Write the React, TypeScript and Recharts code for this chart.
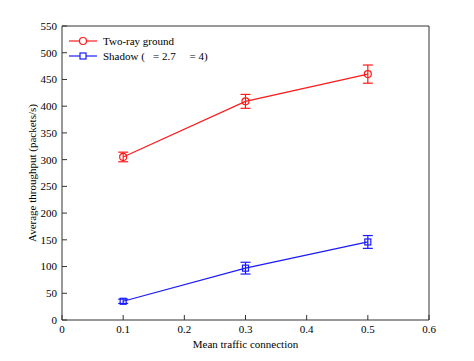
import React from 'react'
import { ComposedChart, Line, XAxis, YAxis, ErrorBar, Legend, Label } from 'recharts'

// values
const connections = [0.1, 0.3, 0.5]
const twoRayGround = [305, 409, 460]
const twoRayErr = [9, 13, 17]
const shadow = [35, 97, 146]
const shadowErr = [4, 11, 12]
const xTicks = [0, 0.1, 0.2, 0.3, 0.4, 0.5, 0.6]
const yTicks = [0, 50, 100, 150, 200, 250, 300, 350, 400, 450, 500, 550]

const RED = '#ff1a1a'
const BLUE = '#1a1aff'
const AXIS = '#333'
const FONT = 'Liberation Serif'

const data = connections.map((x, i) => ({
  x,
  twoRay: twoRayGround[i],
  twoRayErr: twoRayErr[i],
  shadow: shadow[i],
  shadowErr: shadowErr[i],
}))

const CircleDot = (props: any) => {
  const { cx, cy } = props
  if (cx == null || cy == null) return null
  return <circle cx={cx} cy={cy} r={3.5} fill="none" stroke={RED} strokeWidth={1.2} />
}

const SquareDot = (props: any) => {
  const { cx, cy } = props
  if (cx == null || cy == null) return null
  return <rect x={cx - 3} y={cy - 3} width={6} height={6} fill="none" stroke={BLUE} strokeWidth={1.2} />
}

const legendItems = [
  { label: 'Two-ray ground', color: RED, shape: 'circle' },
  { label: 'Shadow (   = 2.7     = 4)', color: BLUE, shape: 'square' },
]

const LegendBox = () => (
  <div style={{ fontFamily: FONT, fontSize: 11, color: '#000' }}>
    {legendItems.map(it => (
      <div key={it.label} style={{ display: 'flex', alignItems: 'center', height: 15 }}>
        <svg width={30} height={10} style={{ marginRight: 4 }}>
          <line x1={0} y1={5} x2={28} y2={5} stroke={it.color} strokeWidth={1.2} />
          {it.shape === 'circle'
            ? <circle cx={14} cy={5} r={3.5} fill="#fff" stroke={it.color} strokeWidth={1.2} />
            : <rect x={11} y={2} width={6} height={6} fill="#fff" stroke={it.color} strokeWidth={1.2} />}
        </svg>
        <span style={{ whiteSpace: 'pre' }}>{it.label}</span>
      </div>
    ))}
  </div>
)

const YLabel = (props: any) => {
  const vb = props.viewBox
  const x = vb.x + 33
  const y = vb.y + vb.height / 2
  return (
    <text x={x} y={y} transform={`rotate(-90 ${x} ${y})`} textAnchor="middle" dominantBaseline="middle"
      fontFamily={FONT} fontSize={11} fill="#000">
      Average throughput (packets/s)
    </text>
  )
}

export default function App() {
  const tickStyle = { fontFamily: FONT, fontSize: 11, fill: '#000' }
  return (
    <div style={{ position: 'absolute', left: 0, top: 0, background: '#fff' }}>
      <ComposedChart width={474} height={361} data={data} margin={{ top: 25, right: 44, bottom: 0, left: 0 }}
        style={{ fontFamily: FONT }}>
        <XAxis dataKey="x" type="number" domain={[0, 0.6]} ticks={xTicks} height={41}
          stroke={AXIS} tickSize={-5} tickMargin={10} tick={tickStyle}>
          <Label value="Mean traffic connection" position="insideBottom" offset={13}
            fontFamily={FONT} fontSize={11} fill="#000" />
        </XAxis>
        <XAxis xAxisId="top" orientation="top" dataKey="x" type="number" domain={[0, 0.6]} ticks={xTicks}
          height={1} stroke={AXIS} tickSize={-5} tick={false} />
        <YAxis type="number" domain={[0, 550]} ticks={yTicks} width={62} stroke={AXIS}
          tickSize={-5} tickMargin={10} tick={tickStyle} interval={0}>
          <Label content={YLabel} />
        </YAxis>
        <YAxis yAxisId="right" orientation="right" type="number" domain={[0, 550]} ticks={yTicks} width={1}
          stroke={AXIS} tickSize={-5} tick={false} interval={0} />
        <Legend layout="horizontal" verticalAlign="middle" align="center" content={LegendBox}
          wrapperStyle={{ top: 33, left: 69, width: 'auto', height: 'auto' }} />
        <Line dataKey="twoRay" stroke={RED} strokeWidth={1.2} dot={<CircleDot />} isAnimationActive={false}>
          <ErrorBar dataKey="twoRayErr" width={5} stroke={RED} strokeWidth={1.2} direction="y" />
        </Line>
        <Line dataKey="shadow" stroke={BLUE} strokeWidth={1.2} dot={<SquareDot />} isAnimationActive={false}>
          <ErrorBar dataKey="shadowErr" width={5} stroke={BLUE} strokeWidth={1.2} direction="y" />
        </Line>
      </ComposedChart>
    </div>
  )
}
